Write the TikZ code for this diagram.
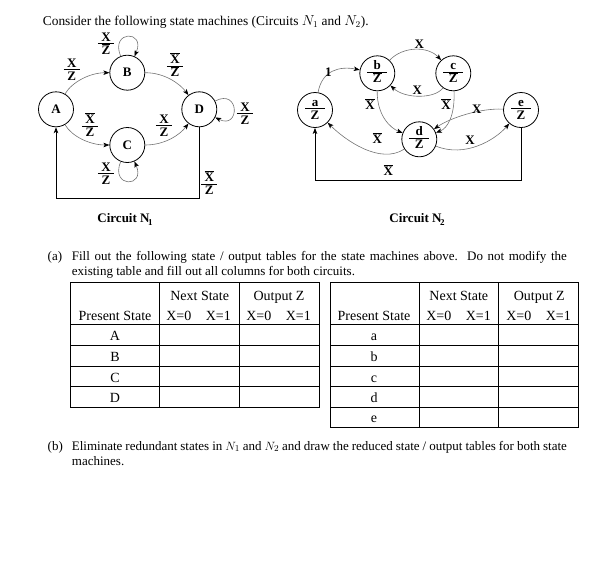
\documentclass[tikz,border=0pt]{standalone}
\usepackage{fontspec}
\setmainfont{Liberation Serif}
\usetikzlibrary{arrows.meta}
\newcommand\ffrac[2]{\begin{tabular}{@{\hspace{3.5pt}}c@{\hspace{3.5pt}}}#1\\[-2pt]\hline\rule{0pt}{11pt}#2\end{tabular}}
\newcommand\nfrac[2]{\begin{tabular}{@{\hspace{5.5pt}}c@{\hspace{5.5pt}}}#1\\[-2pt]\hline\rule{0pt}{11pt}#2\end{tabular}}
\newcommand\nb[1]{$\overline{\hbox{#1}}$}
\newcommand\circcap[1]{Circuit N\kern-1.5pt\raisebox{-3pt}{\fontsize{9}{10}\selectfont #1}}
\tikzset{
 st/.style={circle,draw,line width=0.8pt,minimum size=35pt,inner sep=0pt,font=\fontsize{13}{14}\selectfont\bfseries},
 tr/.style={draw=black!55,line width=0.6pt,-{Stealth[length=6pt,width=4.5pt,inset=1.5pt,color=black]}},
 ret/.style={draw=black,line width=0.8pt,-{Stealth[length=6pt,width=4.5pt,inset=1.5pt]}},
 lab/.style={inner sep=0pt,font=\fontsize{13}{14}\selectfont\bfseries},
 txt/.style={anchor=base west,inner sep=0pt,font=\fontsize{13}{15}\selectfont},
 tt/.style={anchor=base,inner sep=0pt,font=\fontsize{14}{16}\selectfont},
 grid/.style={line width=0.9pt},
}
\begin{document}
\begin{tikzpicture}[x=1pt,y=-1pt]
\useasboundingbox (0,0) rectangle (615,560);
% title
\node[txt,font=\fontsize{13.4}{15}\selectfont] (title) at (42.7,25.7) {Consider the following state machines (Circuits $N_1$ and $N_2$).};

% Circuit N1
\node[st] (A) at (56,109.3) {A};
\node[st] (B) at (127.3,72.7) {B};
\node[st] (C) at (127.3,145) {C};
\node[st] (D) at (199.3,109.3) {D};
\draw[tr] (A) .. controls (72,82) and (90,72.7) .. (B);
\draw[tr] (B) .. controls (165,72.7) and (180,84) .. (D);
\draw[tr] (A) .. controls (72,136.6) and (90,145) .. (C);
\draw[tr] (C) .. controls (165,145) and (180,134.6) .. (D);
\draw[tr] (B) .. controls (110,30) and (146,30) .. (B);
\draw[tr] (C) .. controls (110,188) and (146,188) .. (C);
\draw[tr] (D) .. controls (240,88) and (240,130) .. (D);
\coordinate (n1b) at (0,198.3);
\draw[ret] (D.south) -- (D.south |- n1b) -| (A.south);
\node[lab] (l1) at (71.7,71) {\ffrac{X}{Z}};
\node[lab] (l2) at (106,45) {\ffrac{X}{\nb{Z}}};
\node[lab] (l3) at (175,67) {\ffrac{\nb{X}}{\nb{Z}}};
\node[lab] (l4) at (245,115) {\ffrac{X}{Z}};
\node[lab] (l5) at (90,127) {\ffrac{\nb{X}}{Z}};
\node[lab] (l6) at (164,127) {\ffrac{X}{Z}};
\node[lab] (l7) at (106,175) {\ffrac{X}{Z}};
\node[lab] (l8) at (209.3,185) {\ffrac{\nb{X}}{Z}};
\node[lab] (cap1) at (125,219) {\circcap{1}};

% Circuit N2
\node[st] (a) at (315,110) {\nfrac{a}{Z}};
\node[st] (b) at (377.3,73.3) {\nfrac{b}{\nb{Z}}};
\node[st] (c) at (453.3,73.3) {\nfrac{c}{\nb{Z}}};
\node[st] (d) at (419.3,139.3) {\nfrac{d}{Z}};
\node[st] (e) at (521,110) {\nfrac{e}{Z}};
\draw[tr] (a) .. controls (322,70) and (340,66) .. (b);
\draw[tr] (b) .. controls (403,46) and (428,46) .. (c);
\draw[tr] (c) .. controls (435,99) and (405,99) .. (b);
\draw[tr] (b) .. controls (377,115) and (390,128) .. (d);
\draw[tr] (c) .. controls (455,115) and (448,128) .. (d);
\draw[tr] (e) .. controls (480,108) and (450,118) .. (d);
\draw[tr] (d) .. controls (465,158) and (495,140) .. (e);
\draw[tr] (d) .. controls (380,165) and (345,140) .. (a);
\coordinate (n2b) at (0,180.7);
\draw[ret] (e.south) -- (e.south |- n2b) -| (a.south);
\node[lab] (m1) at (328.3,72.7) {1};
\node[lab] (m2) at (419.3,44) {X};
\node[lab] (m3) at (417.3,90.7) {X};
\node[lab] (m4) at (370,104) {\nb{X}};
\node[lab] (m5) at (446,104) {\nb{X}};
\node[lab] (m6) at (476.7,109) {X};
\node[lab] (m7) at (470,140) {X};
\node[lab] (m8) at (377.3,138) {\nb{X}};
\node[lab] (m9) at (388.3,170) {\nb{X}};
\node[lab] (cap2) at (417,219) {\circcap{2}};

% paragraph (a)
\node[txt] (pa) at (47.5,260.5) {(a)};
\node[txt] (pa1) at (71.7,260.5) {\makebox[495pt][s]{Fill out the following state / output tables for the state machines above.\ \ Do not modify the}};
\node[txt] (pa2) at (71.7,275.5) {existing table and fill out all columns for both circuits.};

% left table
\draw[grid] (70.7,282.7) rectangle (319.3,407);
\foreach \yy in {324.3,345.3,366,386.7} \draw[grid] (70.7,\yy) -- (319.3,\yy);
\foreach \xx in {159.3,239.3} \draw[grid] (\xx,282.7) -- (\xx,407);
\node[tt] (lns) at (199.7,300) {Next State};
\node[tt] (loz) at (279,300) {Output Z};
\node[tt] (lps) at (115,320) {Present State};
\node[tt] (lx1) at (178.8,320) {X=0};
\node[tt] (lx2) at (218.3,320) {X=1};
\node[tt] (lx3) at (258.8,320) {X=0};
\node[tt] (lx4) at (298.3,320) {X=1};
\node[tt] (rA) at (115,340.7) {A};
\node[tt] (rB) at (115,361.3) {B};
\node[tt] (rC) at (115,382) {C};
\node[tt] (rD) at (115,402.5) {D};

% right table
\draw[grid] (330.7,282.7) rectangle (578.3,427.3);
\foreach \yy in {324.3,345.3,366,386.7,407.3} \draw[grid] (330.7,\yy) -- (578.3,\yy);
\foreach \xx in {419.3,498.3} \draw[grid] (\xx,282.7) -- (\xx,427.3);
\node[tt] (rns) at (458.8,300) {Next State};
\node[tt] (roz) at (539.3,300) {Output Z};
\node[tt] (rps) at (374,320) {Present State};
\node[tt] (rx1) at (438.8,320) {X=0};
\node[tt] (rx2) at (478.3,320) {X=1};
\node[tt] (rx3) at (518.8,320) {X=0};
\node[tt] (rx4) at (558.3,320) {X=1};
\node[tt] (ra) at (374,340.8) {a};
\node[tt] (rb) at (374,361.5) {b};
\node[tt] (rc) at (374,382.2) {c};
\node[tt] (rd) at (374,402.8) {d};
\node[tt] (re) at (374,422.8) {e};

% paragraph (b)
\node[txt] (pb) at (47.5,450) {(b)};
\node[txt] (pb1) at (71.7,450) {\makebox[495pt][s]{Eliminate redundant states in $N_1$ and $N_2$ and draw the reduced state / output tables for both state}};
\node[txt] (pb2) at (71.7,465) {machines.};
\end{tikzpicture}
\end{document}
